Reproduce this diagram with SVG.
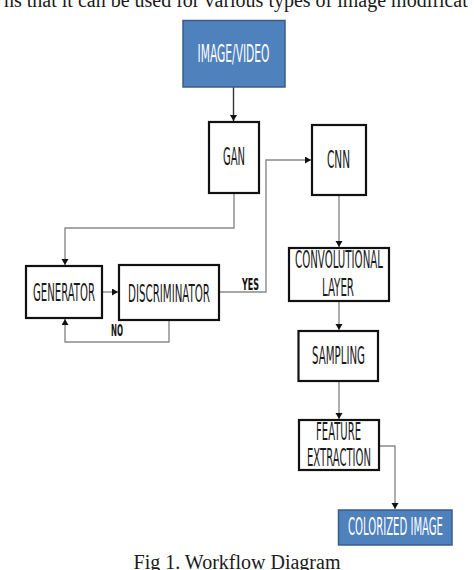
<svg xmlns="http://www.w3.org/2000/svg" width="474" height="570" viewBox="0 0 474 570">
<style>
.page{font-family:"Liberation Serif","Times New Roman",serif;font-size:20px;fill:#1a1a1a}
.box{fill:#ffffff;stroke:#111;stroke-width:2.2}
.blue{fill:#4F81BD;stroke:#385D8A;stroke-width:1.5}
.lbl{font-family:"Liberation Sans Narrow","DejaVu Sans Condensed","Liberation Sans",sans-serif;font-size:24px;fill:#1a1a1a;text-anchor:middle}
.wlbl{font-family:"Liberation Sans Narrow","DejaVu Sans Condensed","Liberation Sans",sans-serif;font-size:24px;fill:#ffffff;text-anchor:middle}
.yn{font-family:"Liberation Sans Narrow","DejaVu Sans Condensed","Liberation Sans",sans-serif;font-size:15px;font-weight:bold;fill:#111;text-anchor:middle}
.conn{fill:none;stroke:#8a8a8a;stroke-width:1.4}
.dark{stroke:#333}
</style>
<defs>
<marker id="arr" markerUnits="userSpaceOnUse" markerWidth="8" markerHeight="8" refX="6" refY="3.5" orient="auto">
<path d="M0,0 L6,3.5 L0,7 Z" fill="#111"/>
</marker>
</defs>
<rect width="474" height="570" fill="#ffffff"/>
<text class="page" x="4" y="7">ns that it can be used for various types of image modificat</text>
<text class="page" x="237" y="569" text-anchor="middle" font-size="20.3">Fig 1. Workflow Diagram</text>

<g id="connectors">
<path class="conn dark" d="M233.5,87 V121" marker-end="url(#arr)"/>
<path class="conn" d="M234,194 V228 H65 V265" marker-end="url(#arr)"/>
<path class="conn" d="M103,292 H118" marker-end="url(#arr)"/>
<path class="conn" d="M169,321 V342 H65 V319" marker-end="url(#arr)"/>
<path class="conn" d="M220,292 H266 V160 H311" marker-end="url(#arr)"/>
<path class="conn" d="M339,196 V247" marker-end="url(#arr)"/>
<path class="conn" d="M339,302 V330" marker-end="url(#arr)"/>
<path class="conn" d="M339,382 V419" marker-end="url(#arr)"/>
<path class="conn" d="M380,446 H395 V509" marker-end="url(#arr)"/>
<text class="yn" x="117" y="336" textLength="12" lengthAdjust="spacingAndGlyphs">NO</text>
<text class="yn" x="250.5" y="290" textLength="17" lengthAdjust="spacingAndGlyphs">YES</text>
</g>

<g id="image-video">
<rect class="blue" x="183" y="20.5" width="102" height="66.5"/>
<text class="wlbl" x="233.5" y="62" textLength="72" lengthAdjust="spacingAndGlyphs">IMAGE/VIDEO</text>
</g>

<g id="gan">
<rect class="box" x="209" y="122" width="50" height="71"/>
<text class="lbl" x="234" y="165" font-size="23" textLength="22" lengthAdjust="spacingAndGlyphs">GAN</text>
</g>

<g id="cnn">
<rect class="box" x="312" y="125" width="54" height="70"/>
<text class="lbl" x="338.5" y="168" font-size="23" textLength="23" lengthAdjust="spacingAndGlyphs">CNN</text>
</g>

<g id="generator">
<rect class="box" x="26" y="266" width="76" height="52"/>
<text class="lbl" x="64" y="301" textLength="62" lengthAdjust="spacingAndGlyphs">GENERATOR</text>
</g>

<g id="discriminator">
<rect class="box" x="119" y="265" width="100" height="55"/>
<text class="lbl" x="169" y="302" textLength="82" lengthAdjust="spacingAndGlyphs">DISCRIMINATOR</text>
</g>

<g id="convolutional-layer">
<rect class="box" x="289" y="248" width="100" height="53"/>
<text class="lbl" x="339" y="268" font-size="21" textLength="88" lengthAdjust="spacingAndGlyphs">CONVOLUTIONAL</text>
<text class="lbl" x="338" y="296" font-size="22" textLength="32" lengthAdjust="spacingAndGlyphs">LAYER</text>
</g>

<g id="sampling">
<rect class="box" x="298.5" y="331" width="79.5" height="50"/>
<text class="lbl" x="338.5" y="364" textLength="53" lengthAdjust="spacingAndGlyphs">SAMPLING</text>
</g>

<g id="feature-extraction">
<rect class="box" x="299" y="420" width="80" height="50"/>
<text class="lbl" x="338.5" y="440" font-size="21" textLength="45" lengthAdjust="spacingAndGlyphs">FEATURE</text>
<text class="lbl" x="339" y="466" font-size="22" textLength="64" lengthAdjust="spacingAndGlyphs">EXTRACTION</text>
</g>

<g id="colorized-image">
<rect class="blue" x="338.5" y="510" width="113.5" height="35"/>
<text class="wlbl" x="395.5" y="535" font-size="21" textLength="95" lengthAdjust="spacingAndGlyphs">COLORIZED IMAGE</text>
</g>
</svg>
